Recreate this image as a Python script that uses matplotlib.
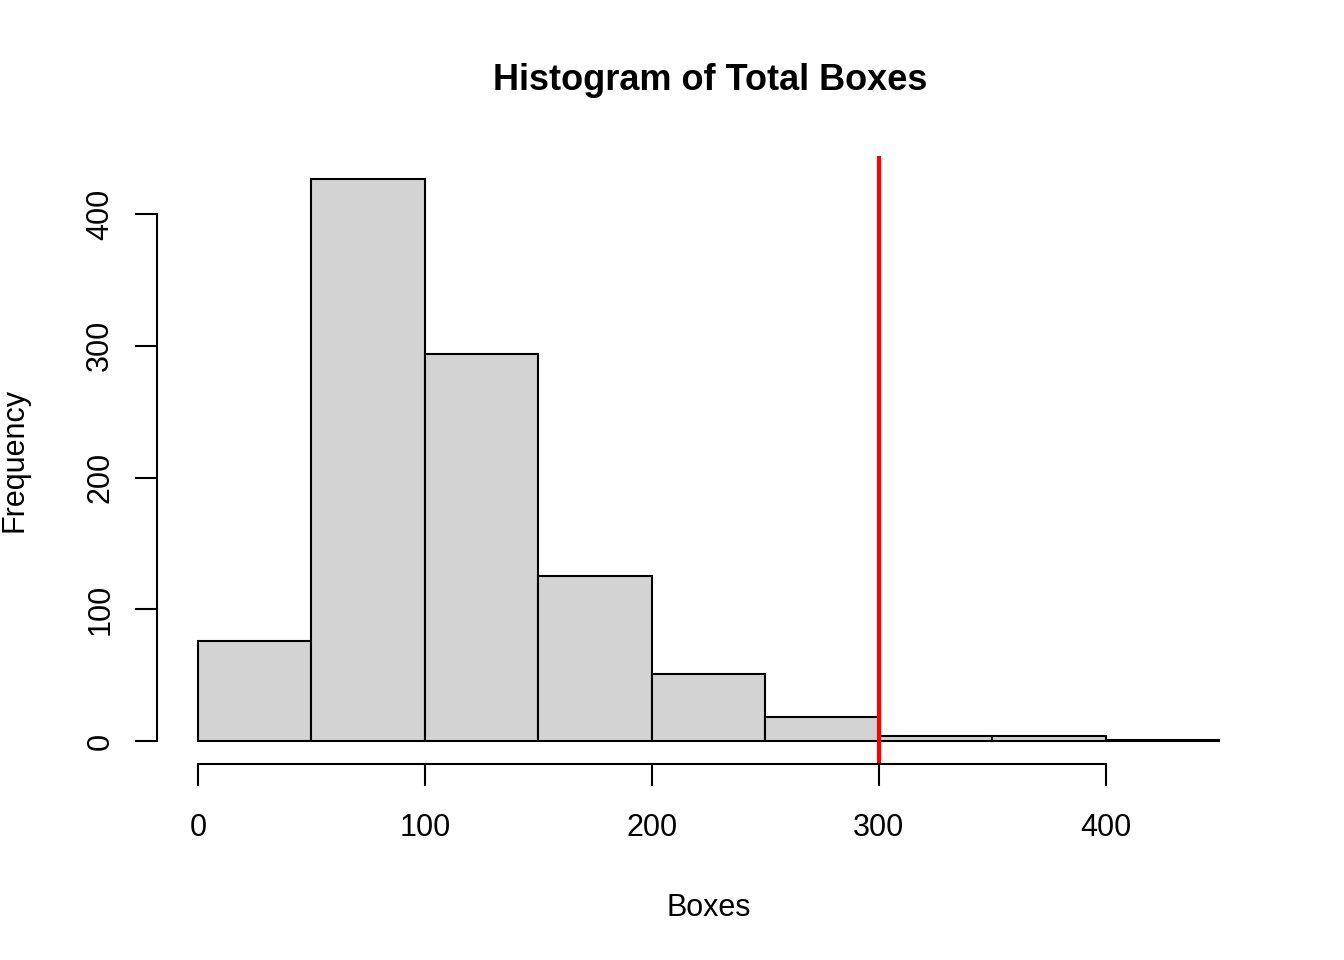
import matplotlib
matplotlib.use("Agg")
import matplotlib.pyplot as plt

bin_edges = [0, 50, 100, 150, 200, 250, 300, 350, 400, 450]
counts = [76, 427, 294, 125, 51, 18, 4, 4, 1]
xticks = [0, 100, 200, 300, 400]
yticks = [0, 100, 200, 300, 400]
cutoff = 300

plt.rcParams['font.family'] = ['Liberation Sans', 'DejaVu Sans']
fig = plt.figure(figsize=(13.44, 9.6), dpi=100)
ax = fig.add_axes([157/1344, 1-763.5/960, (1260-157)/1344, (763.5-156)/960])
ax.bar(bin_edges[:-1], counts, width=[b - a for a, b in zip(bin_edges[:-1], bin_edges[1:])],
       align='edge', color='#D3D3D3', edgecolor='black', linewidth=1.5)
ax.set_xlim(-18, 468)
ax.set_ylim(-17.08, 444.08)
ax.axvline(cutoff, color='red', linewidth=3)
for s in ['top', 'right']:
    ax.spines[s].set_visible(False)
ax.spines['left'].set_bounds(0, 400)
ax.spines['bottom'].set_bounds(0, 400)
ax.spines['left'].set_linewidth(1.5)
ax.spines['bottom'].set_linewidth(1.5)
ax.set_xticks(xticks)
ax.set_yticks(yticks)
ax.tick_params(length=16, width=1.5, labelsize=22)
ax.tick_params(axis='x', pad=20)
ax.tick_params(axis='y', pad=14)
ax.set_yticklabels([str(v) for v in yticks], rotation=90, va='center')
ax.set_xlabel('Boxes', fontsize=22, labelpad=36)
ax.set_ylabel('Frequency', fontsize=22, labelpad=40)
fig.text(710/1344, 1-80/960, 'Histogram of Total Boxes', ha='center', va='center',
         fontsize=26, fontweight='bold')
fig.savefig('out.png', dpi=100)
